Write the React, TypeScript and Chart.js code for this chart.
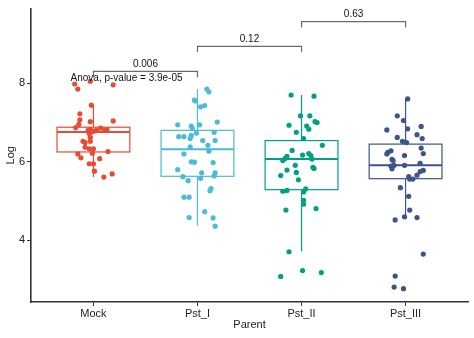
import React, { useEffect, useRef } from "react";
import { Chart, registerables } from "chart.js";
Chart.register(...registerables);

const categories = ["Mock", "Pst_I", "Pst_II", "Pst_III"];
const colors = ["#E64B35", "#4DBBD5", "#00A087", "#3C5488"];
const yTicks = [4, 6, 8];

// box stats: [lower whisker, q1, median, q3, upper whisker]
const mockBox = [5.61, 6.25, 6.76, 6.88, 7.44];
const pst1Box = [4.37, 5.63, 6.32, 6.8, 7.85];
const pst2Box = [3.72, 5.29, 6.07, 6.54, 7.7];
const pst3Box = [4.54, 5.57, 5.91, 6.45, 7.6];

const mockValues = [7.98, 7.85, 8.05, 7.96, 7.44, 7.22, 7.07, 7.02, 7.04, 6.95, 6.87, 6.8, 6.82, 6.78, 6.8, 6.86, 6.8, 6.82, 6.72, 6.76, 6.62, 6.52, 6.49, 6.52, 6.37, 6.33, 6.33, 6.26, 6.2, 6.22, 6.1, 6.08, 5.95, 5.95, 5.76, 5.61, 5.69];
const mockJitter = [-0.18, -0.15, -0.03, 0.19, -0.02, -0.13, -0.13, -0.03, 0.19, -0.14, -0.17, -0.05, -0.03, 0, 0.03, 0.07, 0.11, 0.13, -0.04, -0.02, -0.03, -0.1, -0.08, -0.03, -0.08, -0.04, 0, 0.14, -0.15, -0.01, -0.12, 0.06, 0, -0.04, 0.01, 0.1, 0.18];

const pst1Values = [7.85, 7.78, 7.57, 7.55, 7.4, 7.43, 6.94, 6.91, 6.85, 6.94, 7.01, 6.73, 6.75, 6.64, 6.64, 6.67, 6.59, 6.54, 6.54, 6.42, 6.38, 6.27, 6.2, 6.0, 5.99, 5.98, 5.8, 5.72, 5.72, 5.64, 5.62, 5.58, 5.52, 5.32, 5.26, 5.1, 5.1, 4.73, 4.58, 4.57, 4.36];
const pst1Jitter = [0.09, 0.11, -0.03, -0.02, 0.03, 0.07, -0.19, -0.06, -0.05, 0.02, 0.19, -0.01, 0.16, -0.18, -0.13, -0.06, -0.07, 0.05, 0.17, 0.1, -0.07, 0.11, -0.13, -0.06, -0.03, 0.15, -0.19, 0.04, 0.17, 0.16, -0.14, 0.03, -0.09, 0.13, 0.12, -0.13, -0.08, 0.07, -0.08, 0.15, 0.17];

const pst2Values = [7.7, 7.67, 7.17, 7.17, 6.93, 6.91, 6.83, 7.02, 7.0, 6.75, 6.59, 6.42, 6.29, 6.17, 6.21, 6.16, 6.14, 6.08, 6.03, 6.07, 5.83, 5.86, 5.91, 5.79, 5.73, 5.65, 5.54, 5.25, 5.27, 5.31, 5.23, 5.02, 4.92, 4.77, 4.81, 3.71, 3.23, 3.18, 3.08];
const pst2Jitter = [-0.1, 0.12, -0.01, 0.08, -0.12, 0.05, 0.07, 0.13, 0.15, -0.05, 0.02, 0.2, -0.09, 0.01, 0.07, 0.09, -0.14, -0.16, -0.18, 0.1, 0.12, 0.11, -0.06, -0.14, -0.05, -0.2, -0.03, -0.18, -0.14, 0.04, 0.02, 0.02, 0.02, -0.15, 0.14, -0.12, 0.01, 0.19, -0.2];

const pst3Values = [7.6, 7.17, 7.05, 6.81, 6.84, 6.9, 6.69, 6.62, 6.59, 6.52, 6.49, 6.35, 6.28, 6.24, 6.2, 6.21, 6.16, 6.06, 6.03, 5.96, 5.91, 5.89, 5.91, 5.82, 5.78, 5.75, 5.66, 5.62, 5.56, 5.56, 5.34, 5.12, 4.77, 4.6, 4.52, 4.58, 3.65, 3.09, 2.81, 2.77];
const pst3Jitter = [0.02, -0.08, -0.02, -0.18, 0.02, 0.15, 0.11, -0.08, 0.16, -0.03, 0.01, 0.15, -0.14, -0.17, -0.18, 0.17, -0.01, -0.13, -0.12, 0.14, -0.01, -0.14, -0.11, -0.13, 0.17, 0.14, 0.11, 0.03, 0.04, 0.07, -0.05, 0.03, 0.04, -0.01, -0.1, 0.11, 0.17, -0.1, -0.11, -0.02];

const boxes = [mockBox, pst1Box, pst2Box, pst3Box];
const groupValues = [mockValues, pst1Values, pst2Values, pst3Values];
const groupJitter = [mockJitter, pst1Jitter, pst2Jitter, pst3Jitter];

const bracketPairs = [[0, 1], [1, 2], [2, 3]];
const bracketLabels = ["0.006", "0.12", "0.63"];
const bracketTops = [8.3, 8.94, 9.57];
const bracketDrop = 0.15;
const bracketLabelLift = 0.19;

const anovaText = "Anova, p-value = 3.9e-05";
const anovaX = -0.22;
const anovaY = 8.13;

const FONT = "'Liberation Sans', Arial, Helvetica, sans-serif";

export default function App() {
  const ref = useRef<HTMLCanvasElement | null>(null);

  useEffect(() => {
    if (!ref.current) return;
    const boxWidth = 0.7;

    const boxPlugin = {
      id: "boxPlugin",
      beforeDatasetsDraw(chart: any) {
        const ctx = chart.ctx;
        const xs = chart.scales.x;
        const ys = chart.scales.y;
        boxes.forEach((b, i) => {
          const [lo, q1, med, q3, hi] = b;
          const xl = xs.getPixelForValue(i - boxWidth / 2);
          const xr = xs.getPixelForValue(i + boxWidth / 2);
          const xc = xs.getPixelForValue(i);
          ctx.save();
          ctx.strokeStyle = colors[i];
          ctx.lineWidth = 1.2;
          // whiskers
          ctx.beginPath();
          ctx.moveTo(xc, ys.getPixelForValue(q3));
          ctx.lineTo(xc, ys.getPixelForValue(hi));
          ctx.moveTo(xc, ys.getPixelForValue(q1));
          ctx.lineTo(xc, ys.getPixelForValue(lo));
          ctx.stroke();
          // box
          const yt = ys.getPixelForValue(q3);
          const yb = ys.getPixelForValue(q1);
          ctx.fillStyle = "#ffffff";
          ctx.fillRect(xl, yt, xr - xl, yb - yt);
          ctx.strokeRect(xl, yt, xr - xl, yb - yt);
          // median
          ctx.lineWidth = 2;
          ctx.beginPath();
          const ym = ys.getPixelForValue(med);
          ctx.moveTo(xl, ym);
          ctx.lineTo(xr, ym);
          ctx.stroke();
          ctx.restore();
        });
      },
      afterDatasetsDraw(chart: any) {
        const ctx = chart.ctx;
        const xs = chart.scales.x;
        const ys = chart.scales.y;
        ctx.save();
        ctx.fillStyle = "#111";
        ctx.font = `10px ${FONT}`;
        ctx.textAlign = "center";
        ctx.textBaseline = "middle";
        bracketPairs.forEach((p, i) => {
          const xm = xs.getPixelForValue((p[0] + p[1]) / 2);
          const y = ys.getPixelForValue(bracketTops[i] + bracketLabelLift);
          ctx.fillText(bracketLabels[i], xm, y);
        });
        ctx.textAlign = "left";
        ctx.fillText(anovaText, xs.getPixelForValue(anovaX), ys.getPixelForValue(anovaY));
        ctx.restore();
      },
    };

    const pointSets = groupValues.map((vals, gi) => ({
      type: "scatter" as const,
      label: categories[gi],
      data: vals.map((v, k) => ({ x: gi + groupJitter[gi][k], y: v })),
      backgroundColor: colors[gi],
      borderColor: colors[gi],
      borderWidth: 0,
      pointRadius: 2.6,
      pointHoverRadius: 2.6,
      showLine: false,
    }));

    const bracketSets = bracketPairs.map((p, i) => ({
      type: "line" as const,
      label: "bracket" + i,
      data: [
        { x: p[0], y: bracketTops[i] - bracketDrop },
        { x: p[0], y: bracketTops[i] },
        { x: p[1], y: bracketTops[i] },
        { x: p[1], y: bracketTops[i] - bracketDrop },
      ],
      borderColor: "#6b6b6b",
      borderWidth: 1.2,
      pointRadius: 0,
      fill: false,
      tension: 0,
    }));

    const chart = new Chart(ref.current, {
      type: "scatter",
      data: { datasets: [...pointSets, ...bracketSets] as any },
      plugins: [boxPlugin],
      options: {
        responsive: false,
        animation: false,
        devicePixelRatio: 1,
        layout: { padding: { top: 6, right: 6, left: 0, bottom: 0 } },
        plugins: { legend: { display: false }, tooltip: { enabled: false } },
        scales: {
          x: {
            type: "linear",
            min: -0.6,
            max: 3.6,
            afterBuildTicks: (s: any) => {
              s.ticks = categories.map((_, i) => ({ value: i }));
            },
            afterFit: (s: any) => {
              s.height = 36;
            },
            ticks: {
              callback: (v: any) => categories[Math.round(Number(v))] ?? "",
              color: "#222",
              font: { family: FONT, size: 11 },
              padding: 1,
              maxRotation: 0,
              autoSkip: false,
            },
            grid: { drawOnChartArea: false, drawTicks: true, tickLength: 4, color: "#333", lineWidth: 1 },
            border: { display: true, color: "#333", width: 1.6 },
            title: {
              display: true,
              text: "Parent",
              color: "#222",
              font: { family: FONT, size: 11 },
              padding: { top: 6, bottom: 6 },
            },
          },
          y: {
            type: "linear",
            min: 2.43,
            max: 9.9,
            afterBuildTicks: (s: any) => {
              s.ticks = yTicks.map((v) => ({ value: v }));
            },
            afterFit: (s: any) => {
              s.width = 31;
            },
            ticks: {
              color: "#222",
              font: { family: FONT, size: 11 },
              padding: 2,
            },
            grid: { drawOnChartArea: false, drawTicks: true, tickLength: 4, color: "#333", lineWidth: 1 },
            border: { display: true, color: "#333", width: 1.6 },
            title: {
              display: true,
              text: "Log",
              color: "#222",
              font: { family: FONT, size: 11 },
              padding: { top: 4, bottom: 4 },
            },
          },
        },
      },
    });
    return () => chart.destroy();
  }, []);

  return (
    <div style={{ position: "absolute", left: 0, top: 0, width: 474, height: 338, background: "#fff" }}>
      <canvas ref={ref} width={474} height={338} />
    </div>
  );
}
